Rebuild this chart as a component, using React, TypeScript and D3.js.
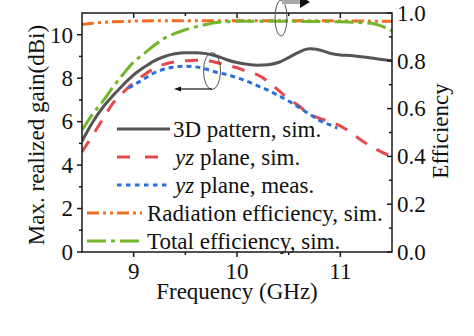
import React from 'react';
import * as d3 from 'd3';

const W = 474;
const H = 336;
const PLOT = { left: 82, right: 392, top: 13, bottom: 252 };
const FONT = '"Liberation Serif", "Times New Roman", Times, serif';

// Axis ticks
const freqTicks = [9, 10, 11];
const freqMinorTicks = [9.5, 10.5];
const gainTicks = [0, 2, 4, 6, 8, 10];
const gainMinorTicks = [1, 3, 5, 7, 9];
const effTicks = [0, 0.2, 0.4, 0.6, 0.8, 1.0];
const effMinorTicks = [0.1, 0.3, 0.5, 0.7, 0.9];

// 3D pattern, sim. (dBi)
const freq3D = [8.5, 8.6, 8.7, 8.8, 8.9, 9.0, 9.1, 9.2, 9.3, 9.4, 9.5, 9.6, 9.7, 9.8, 9.9, 10.0, 10.1, 10.2, 10.3, 10.4, 10.5, 10.6, 10.7, 10.8, 10.9, 11.0, 11.1, 11.2, 11.3, 11.4, 11.5];
const gain3D = [5.1, 5.95, 6.65, 7.2, 7.7, 8.15, 8.5, 8.8, 9.0, 9.12, 9.17, 9.17, 9.13, 9.02, 8.85, 8.72, 8.64, 8.6, 8.62, 8.72, 8.95, 9.2, 9.35, 9.3, 9.15, 9.07, 9.04, 8.99, 8.93, 8.86, 8.8];

// yz plane, sim. (dBi)
const freqYzSim = [8.5, 8.6, 8.7, 8.8, 8.9, 9.0, 9.1, 9.2, 9.3, 9.4, 9.5, 9.6, 9.7, 9.8, 9.9, 10.0, 10.1, 10.2, 10.3, 10.4, 10.5, 10.6, 10.7, 10.8, 10.9, 11.0, 11.1, 11.2, 11.3, 11.4, 11.5];
const gainYzSim = [4.6, 5.35, 6.1, 6.85, 7.35, 7.8, 8.15, 8.45, 8.65, 8.75, 8.8, 8.83, 8.82, 8.72, 8.6, 8.48, 8.3, 8.15, 7.85, 7.45, 7.05, 6.72, 6.35, 6.15, 6.0, 5.8, 5.5, 5.15, 4.85, 4.6, 4.4];

// yz plane, meas. (dBi)
const freqYzMeas = [8.95, 9.0, 9.1, 9.2, 9.3, 9.4, 9.5, 9.6, 9.7, 9.8, 9.9, 10.0, 10.1, 10.2, 10.3, 10.4, 10.5, 10.6, 10.7, 10.8, 10.9, 10.97];
const gainYzMeas = [7.55, 7.68, 7.97, 8.25, 8.42, 8.52, 8.55, 8.52, 8.42, 8.27, 8.17, 8.02, 7.85, 7.65, 7.45, 7.2, 6.95, 6.65, 6.35, 6.05, 5.85, 5.7];

// Radiation efficiency, sim.
const freqRadEff = [8.5, 8.6, 8.8, 9.0, 9.5, 10.0, 10.5, 11.0, 11.5];
const radEff = [0.952, 0.957, 0.963, 0.966, 0.968, 0.968, 0.968, 0.967, 0.965];

// Total efficiency, sim.
const freqTotEff = [8.5, 8.6, 8.7, 8.8, 8.9, 9.0, 9.1, 9.2, 9.3, 9.4, 9.5, 9.6, 9.7, 9.8, 9.9, 10.0, 10.5, 11.0, 11.2, 11.3, 11.4, 11.5];
const totEff = [0.51, 0.575, 0.63, 0.69, 0.745, 0.795, 0.83, 0.865, 0.895, 0.915, 0.93, 0.942, 0.952, 0.96, 0.963, 0.965, 0.965, 0.963, 0.96, 0.957, 0.945, 0.925];

const x = d3.scaleLinear().domain([8.5, 11.5]).range([PLOT.left, PLOT.right]);
const yGain = d3.scaleLinear().domain([0, 11]).range([PLOT.bottom, PLOT.top]);
const yEff = d3.scaleLinear().domain([0, 1.0]).range([PLOT.bottom, PLOT.top]);

type Series = {
  xs: number[];
  ys: number[];
  y: d3.ScaleLinear<number, number>;
  color: string;
  dash?: string;
};

const series: Series[] = [
  { xs: freqYzSim, ys: gainYzSim, y: yGain, color: '#e8474c', dash: '13,11' },
  { xs: freqYzMeas, ys: gainYzMeas, y: yGain, color: '#2a6fdb', dash: '5,4' },
  { xs: freq3D, ys: gain3D, y: yGain, color: '#555555' },
  { xs: freqRadEff, ys: radEff, y: yEff, color: '#f26d21', dash: '12,4,3,4,3,4' },
  { xs: freqTotEff, ys: totEff, y: yEff, color: '#72b62b', dash: '19,5,4,5' },
];

const legend = [
  { it: '', text: '3D pattern, sim.', color: '#555555', dash: undefined, x0: 117, x1: 170, tx: 173 },
  { it: 'yz', text: ' plane, sim.', color: '#e8474c', dash: '13,15', x0: 117, x1: 170, tx: 175 },
  { it: 'yz', text: ' plane, meas.', color: '#2a6fdb', dash: '4.5,4.5', x0: 117, x1: 170, tx: 175 },
  { it: '', text: 'Radiation efficiency, sim.', color: '#f26d21', dash: '12,4,3,4,3,4', x0: 87, x1: 142, tx: 147 },
  { it: '', text: 'Total efficiency, sim.', color: '#72b62b', dash: '19,5,4,5', x0: 87, x1: 142, tx: 147 },
];
const legendRowY = [129, 157, 185, 213, 241];

function linePath(s: Series): string {
  const pts = s.xs.map((f, i) => [f, s.ys[i]] as [number, number]);
  return (
    d3
      .line<[number, number]>()
      .x((d) => x(d[0]))
      .y((d) => s.y(d[1]))
      .curve(d3.curveMonotoneX)(pts) || ''
  );
}

export default function App() {
  const axisColor = '#1a1a1a';
  const fs = 23;
  const textStyle = { fontFamily: FONT, fontSize: fs };
  return (
    <svg
      width={W}
      height={H}
      style={{ position: 'absolute', left: 0, top: 0, background: '#fff', fontFamily: FONT }}
    >
      <defs>
        <clipPath id="plot-clip">
          <rect x={PLOT.left} y={PLOT.top} width={PLOT.right - PLOT.left} height={PLOT.bottom - PLOT.top} />
        </clipPath>
      </defs>

      {/* curves */}
      <g clipPath="url(#plot-clip)" fill="none">
        {series.map((s, i) => (
          <path key={i} d={linePath(s)} stroke={s.color} strokeWidth={3} strokeDasharray={s.dash} />
        ))}
      </g>

      {/* frame */}
      <rect
        x={PLOT.left}
        y={PLOT.top}
        width={PLOT.right - PLOT.left}
        height={PLOT.bottom - PLOT.top}
        fill="none"
        stroke={axisColor}
        strokeWidth={1.5}
      />

      {/* bottom axis (outward), top axis (inward), left (outward), right (inward) */}
      <g stroke={axisColor} strokeWidth={1.5}>
        {freqTicks.map((t) => (
          <g key={'xb' + t}>
            <line x1={x(t)} x2={x(t)} y1={PLOT.bottom} y2={PLOT.bottom + 5} />
            <line x1={x(t)} x2={x(t)} y1={PLOT.top} y2={PLOT.top + 5} />
          </g>
        ))}
        {freqMinorTicks.map((t) => (
          <g key={'xm' + t}>
            <line x1={x(t)} x2={x(t)} y1={PLOT.bottom} y2={PLOT.bottom + 3} />
            <line x1={x(t)} x2={x(t)} y1={PLOT.top} y2={PLOT.top + 3} />
          </g>
        ))}
        {gainTicks.map((t) => (
          <line key={'gl' + t} x1={PLOT.left - 5} x2={PLOT.left} y1={yGain(t)} y2={yGain(t)} />
        ))}
        {gainMinorTicks.map((t) => (
          <line key={'gm' + t} x1={PLOT.left - 3} x2={PLOT.left} y1={yGain(t)} y2={yGain(t)} />
        ))}
        {effTicks.map((t) => (
          <line key={'el' + t} x1={PLOT.right - 5} x2={PLOT.right} y1={yEff(t)} y2={yEff(t)} />
        ))}
        {effMinorTicks.map((t) => (
          <line key={'em' + t} x1={PLOT.right - 3} x2={PLOT.right} y1={yEff(t)} y2={yEff(t)} />
        ))}
      </g>

      {/* tick labels */}
      <g style={textStyle} fill="#111">
        {freqTicks.map((t) => (
          <text key={'xt' + t} x={x(t)} y={279} textAnchor="middle">
            {t}
          </text>
        ))}
        {gainTicks.map((t) => (
          <text key={'gt' + t} x={73} y={yGain(t) + 7.8} textAnchor="end">
            {t}
          </text>
        ))}
        {effTicks.map((t) => (
          <text key={'et' + t} x={397} y={yEff(t) + 7.8} textAnchor="start">
            {d3.format('.1f')(t)}
          </text>
        ))}
      </g>

      {/* axis titles */}
      <g style={textStyle} fill="#111">
        <text x={(PLOT.left + PLOT.right) / 2} y={299} textAnchor="middle">
          Frequency (GHz)
        </text>
        <text transform="translate(44, 135) rotate(-90)" textAnchor="middle">
          Max. realized gain(dBi)
        </text>
        <text transform="translate(448, 131) rotate(-90)" textAnchor="middle">
          Efficiency
        </text>
      </g>

      {/* legend */}
      <g style={textStyle} fill="#111">
        {legend.map((l, i) => (
          <g key={'lg' + i}>
            <line
              x1={l.x0}
              x2={l.x1}
              y1={legendRowY[i]}
              y2={legendRowY[i]}
              stroke={l.color}
              strokeWidth={3}
              strokeDasharray={l.dash}
            />
            <text x={l.tx} y={legendRowY[i] + 7.8}>
              {l.it ? <tspan fontStyle="italic">{l.it}</tspan> : null}
              {l.text}
            </text>
          </g>
        ))}
      </g>

      {/* annotations: efficiency group (right axis) and gain group (left axis) */}
      <g fill="none" stroke="#555" strokeWidth={1}>
        <ellipse cx={281} cy={18} rx={6} ry={18} />
        <ellipse cx={212} cy={71} rx={8.5} ry={18.5} />
      </g>
      <line x1={282} x2={302} y1={2} y2={2} stroke="#a8a8a8" strokeWidth={4} />
      <polygon points="300,-4 310,2 300,8" fill="#111" />
      <line x1={212} x2={180} y1={89} y2={89} stroke="#111" strokeWidth={1.2} />
      <polygon points="174,89 181,86.5 181,91.5" fill="#111" />
    </svg>
  );
}
